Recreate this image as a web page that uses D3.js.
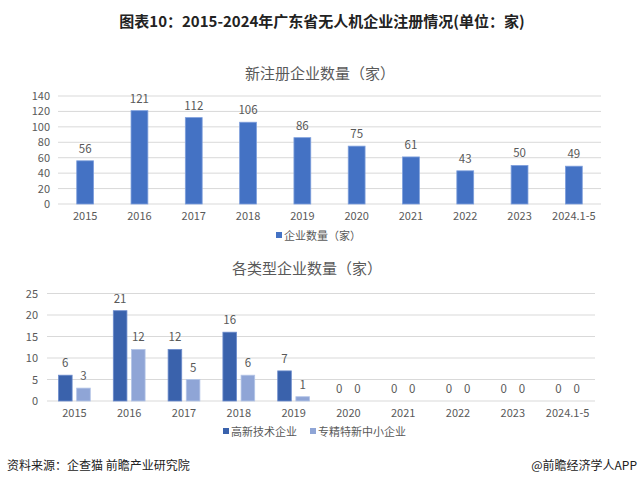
<!DOCTYPE html>
<html><head><meta charset="utf-8">
<script src="https://cdn.jsdelivr.net/npm/d3@7"></script>
<style>
body{margin:0;background:#fff;}
svg text{font-family:"Microsoft YaHei","Noto Sans CJK SC",sans-serif;}
</style></head>
<body><svg id="c" width="639" height="486"></svg>
<script>
const categories = ["2015","2016","2017","2018","2019","2020","2021","2022","2023","2024.1-5"];
const newRegs = [56,121,112,106,86,75,61,43,50,49];
const hiTech = [6,21,12,16,7,0,0,0,0,0];
const specialized = [3,12,5,6,1,0,0,0,0,0];
const topTicks = [0,20,40,60,80,100,120,140];
const botTicks = [0,5,10,15,20,25];

const svg = d3.select("#c");
const axisCol = "#595959", gridCol = "#d9d9d9";

svg.append("text").attr("x",322).attr("y",27).attr("text-anchor","middle")
  .attr("font-size",15).attr("font-weight","bold").attr("fill","#222")
  .text("图表10：2015-2024年广东省无人机企业注册情况(单位：家)");

// ---- top chart
const x1 = d3.scaleBand().domain(categories).range([58,601]).paddingInner(0.69).paddingOuter(0.345);
const y1 = d3.scaleLinear().domain([0,140]).range([204,96]);
const g1 = svg.append("g");
g1.append("text").attr("x",320).attr("y",79).attr("text-anchor","middle").attr("font-size",15).attr("fill",axisCol).text("新注册企业数量（家）");
g1.selectAll(".grid").data(topTicks).enter().append("line")
  .attr("x1",58).attr("x2",601).attr("y1",d=>y1(d)).attr("y2",d=>y1(d))
  .attr("stroke",gridCol).attr("stroke-width",1);
g1.selectAll(".yl").data(topTicks).enter().append("text")
  .attr("x",50).attr("y",d=>y1(d)+4).attr("text-anchor","end").attr("font-size",11).attr("fill",axisCol).text(d=>d);
g1.selectAll(".bar").data(newRegs).enter().append("rect")
  .attr("x",(d,i)=>x1(categories[i])).attr("width",x1.bandwidth())
  .attr("y",d=>y1(d)).attr("height",d=>y1(0)-y1(d))
  .attr("fill","#4472C4").attr("stroke","#7e9fdc").attr("stroke-width",0.8);
g1.selectAll(".lab").data(newRegs).enter().append("text")
  .attr("x",(d,i)=>x1(categories[i])+x1.bandwidth()/2).attr("y",d=>y1(d)-8)
  .attr("text-anchor","middle").attr("font-size",11.5).attr("fill",axisCol).text(d=>d);
g1.selectAll(".xl").data(categories).enter().append("text")
  .attr("x",d=>x1(d)+x1.bandwidth()/2).attr("y",220).attr("text-anchor","middle")
  .attr("font-size",11).attr("fill",axisCol).text(d=>d);
g1.append("rect").attr("x",276).attr("y",232).attr("width",6).attr("height",6).attr("fill","#4472C4");
g1.append("text").attr("x",284).attr("y",239.5).attr("font-size",11).attr("fill",axisCol).text("企业数量（家）");

// ---- bottom chart
const x2 = d3.scaleBand().domain(categories).range([47,595]).paddingInner(0.42).paddingOuter(0.21);
const sub = d3.scaleBand().domain(["a","b"]).range([0,x2.bandwidth()]).paddingInner(0.25);
const y2 = d3.scaleLinear().domain([0,25]).range([401,293.5]);
const g2 = svg.append("g");
g2.append("text").attr("x",307).attr("y",274).attr("text-anchor","middle").attr("font-size",15).attr("fill",axisCol).text("各类型企业数量（家）");
g2.selectAll(".grid").data(botTicks).enter().append("line")
  .attr("x1",47).attr("x2",595).attr("y1",d=>y2(d)).attr("y2",d=>y2(d))
  .attr("stroke",gridCol).attr("stroke-width",1);
g2.selectAll(".yl").data(botTicks).enter().append("text")
  .attr("x",38).attr("y",d=>y2(d)+4).attr("text-anchor","end").attr("font-size",11).attr("fill",axisCol).text(d=>d);
const series = [{k:"a",vals:hiTech,fill:"#3A62AC",stroke:"#6d8ccc"},{k:"b",vals:specialized,fill:"#8FA5D6",stroke:"#b4c5e7"}];
series.forEach(s=>{
  g2.selectAll(".bar"+s.k).data(s.vals).enter().append("rect")
    .attr("x",(d,i)=>x2(categories[i])+sub(s.k)).attr("width",sub.bandwidth())
    .attr("y",d=>y2(d)).attr("height",d=>y2(0)-y2(d))
    .attr("fill",s.fill).attr("stroke",d=>d>0?s.stroke:"none").attr("stroke-width",0.8);
  g2.selectAll(".lab"+s.k).data(s.vals).enter().append("text")
    .attr("x",(d,i)=>x2(categories[i])+sub(s.k)+sub.bandwidth()/2).attr("y",d=>y2(d)-8)
    .attr("text-anchor","middle").attr("font-size",11.5).attr("fill",axisCol).text(d=>d);
});
g2.selectAll(".xl").data(categories).enter().append("text")
  .attr("x",d=>x2(d)+x2.bandwidth()/2).attr("y",417).attr("text-anchor","middle")
  .attr("font-size",11).attr("fill",axisCol).text(d=>d);
g2.append("rect").attr("x",223).attr("y",428).attr("width",6).attr("height",6).attr("fill","#3A62AC");
g2.append("text").attr("x",231).attr("y",435.5).attr("font-size",11).attr("fill",axisCol).text("高新技术企业");
g2.append("rect").attr("x",310).attr("y",428).attr("width",6).attr("height",6).attr("fill","#8FA5D6");
g2.append("text").attr("x",318).attr("y",435.5).attr("font-size",11).attr("fill",axisCol).text("专精特新中小企业");

// footer
svg.append("text").attr("x",7).attr("y",470).attr("font-size",12).attr("fill","#222").text("资料来源：企查猫 前瞻产业研究院");
svg.append("text").attr("x",637).attr("y",470).attr("text-anchor","end").attr("font-size",12).attr("fill","#222").text("@前瞻经济学人APP");
</script></body></html>
